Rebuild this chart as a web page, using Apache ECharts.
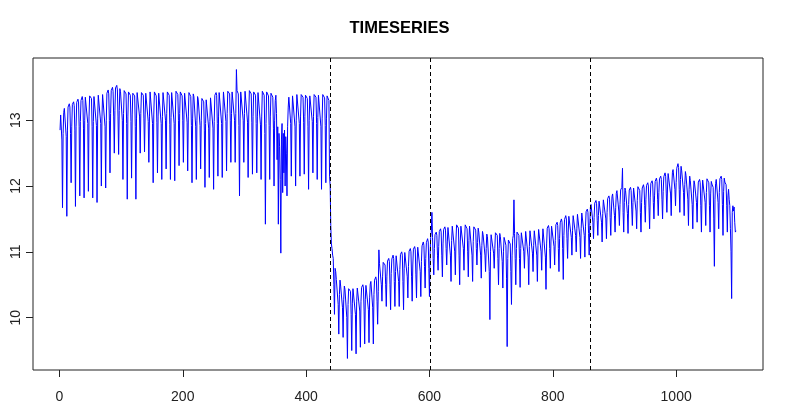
<!DOCTYPE html>
<html>
<head>
<meta charset="utf-8">
<script src="https://cdn.jsdelivr.net/npm/echarts@6/dist/echarts.min.js"></script>
<style>
html,body{margin:0;padding:0;background:#fff;}
#chart{width:799px;height:415px;}
</style>
</head>
<body>
<div id="chart"></div>
<script>
const chartTitle = 'TIMESERIES';
const xTicks = [0, 200, 400, 600, 800, 1000];
const yTicks = [10, 11, 12, 13];
const breaks = [439, 602, 861];

// t = 1 .. 441
const yA = [
12.85,13.08,13.05,12.7,11.67,12.8,13.12,
13.18,13.2,13.15,12.75,11.54,12.85,13.2,
13.22,13.25,13.2,12.8,12.05,12.9,13.24,
13.26,13.28,13.22,12.85,11.69,12.9,13.27,
13.3,13.32,13.28,12.9,11.85,12.98,13.3,
13.33,13.36,13.3,12.88,11.82,13.0,13.35,
13.36,13.38,13.32,12.95,11.92,13.05,13.37,
13.35,13.38,13.33,12.9,11.82,12.98,13.36,
13.37,13.39,13.34,12.92,11.75,13.02,13.38,
13.38,13.4,13.35,12.95,12.0,13.05,13.39,
13.37,13.4,13.36,12.9,11.97,13.0,13.41,
13.43,13.46,13.4,13.0,12.2,13.1,13.45,
13.47,13.5,13.44,13.05,12.5,13.15,13.49,
13.5,13.53,13.46,13.05,12.48,13.15,13.48,
13.44,13.46,13.42,13.0,12.1,13.1,13.45,
13.42,13.44,13.4,12.95,11.8,13.05,13.43,
13.4,13.42,13.38,12.98,12.12,13.08,13.41,
13.41,13.42,13.37,12.9,11.8,13.02,13.42,
13.4,13.43,13.39,13.05,12.5,13.1,13.42,
13.4,13.42,13.38,13.02,12.52,13.08,13.41,
13.41,13.42,13.38,12.98,12.36,13.05,13.43,
13.42,13.44,13.4,12.95,12.05,13.08,13.43,
13.4,13.42,13.37,12.97,12.2,13.05,13.41,
13.41,13.43,13.38,12.95,12.1,13.06,13.42,
13.42,13.44,13.39,13.0,12.26,13.1,13.43,
13.41,13.43,13.38,12.93,12.1,13.04,13.42,
13.43,13.45,13.4,12.95,12.08,13.08,13.44,
13.42,13.44,13.39,13.0,12.31,13.1,13.43,
13.41,13.42,13.37,13.0,12.36,13.08,13.41,
13.41,13.43,13.38,12.97,12.23,13.05,13.42,
13.4,13.42,13.36,12.92,12.05,13.02,13.4,
13.36,13.38,13.33,12.9,12.1,13.0,13.36,
13.32,13.34,13.3,12.92,12.26,13.0,13.33,
13.3,13.32,13.28,12.85,11.98,12.95,13.31,
13.31,13.33,13.29,12.88,12.13,12.98,13.34,
13.34,13.36,13.32,12.88,11.95,12.98,13.38,
13.4,13.42,13.38,12.95,12.15,13.05,13.42,
13.42,13.44,13.4,12.95,12.13,13.08,13.43,
13.43,13.45,13.4,12.98,12.23,13.1,13.44,
13.42,13.44,13.4,13.0,12.36,13.1,13.43,
13.44,13.46,13.41,13.0,12.36,13.1,13.77,
13.45,13.44,13.4,12.92,11.85,13.02,13.43,
13.43,13.45,13.41,13.0,12.36,13.1,13.44,
13.44,13.46,13.41,12.97,12.13,13.08,13.45,
13.42,13.44,13.4,12.96,12.18,13.06,13.43,
13.41,13.43,13.38,12.95,12.2,13.05,13.42,
13.43,13.45,13.4,12.93,12.1,13.05,13.44,
13.42,13.44,13.38,12.8,11.42,12.95,13.43,
13.4,13.42,13.37,12.92,12.1,13.05,13.41,
13.38,13.4,13.35,12.88,12.0,13.0,13.3,
13.38,13.1,12.4,12.9,11.42,12.8,12.6,
12.1,10.98,12.7,12.95,11.9,12.8,12.2,
12.85,12.0,12.75,12.5,11.85,12.9,13.2,
13.35,13.38,13.34,12.95,12.15,13.02,13.37,
13.38,13.4,13.35,12.9,12.0,13.0,13.39,
13.38,13.4,13.36,12.95,12.15,13.05,13.39,
13.39,13.4,13.35,12.97,12.18,13.06,13.38,
13.36,13.38,13.33,12.9,11.95,13.0,13.37,
13.38,13.4,13.36,12.98,12.2,13.06,13.39,
13.38,13.4,13.35,12.95,12.1,13.04,13.38,
13.38,13.4,13.35,12.9,11.95,13.02,13.39,
13.36,13.38,13.34,12.92,12.05,13.02,13.37,
13.38,13.36,13.3,12.15,12.0,11.4,11.12
];

// t = 442 .. 602
const yB = [
11.05,10.95,10.9,10.5,10.05,10.75,10.7,
10.58,10.6,10.55,10.2,9.75,10.35,10.57,
10.48,10.5,10.45,10.15,9.7,10.28,10.48,
10.43,10.45,10.4,10.0,9.38,10.2,10.44,
10.42,10.45,10.4,10.05,9.5,10.22,10.44,
10.44,10.46,10.41,10.05,9.45,10.24,10.45,
10.45,10.47,10.42,10.1,9.55,10.25,10.46,
10.47,10.5,10.45,10.1,9.6,10.28,10.49,
10.5,10.52,10.47,10.12,9.62,10.3,10.51,
10.55,10.58,10.52,10.15,9.6,10.35,10.57,
10.6,10.62,10.57,10.25,9.9,10.4,11.03,
10.82,10.85,10.8,10.5,10.25,10.62,10.84,
10.83,10.85,10.8,10.5,10.17,10.63,10.86,
10.87,10.9,10.85,10.5,10.12,10.67,10.89,
10.92,10.95,10.9,10.55,10.17,10.7,10.94,
10.95,10.97,10.92,10.55,10.17,10.73,10.96,
10.97,11.0,10.95,10.55,10.12,10.75,10.99,
11.0,11.02,10.97,10.62,10.3,10.78,11.01,
11.02,11.05,11.0,10.62,10.25,10.8,11.04,
11.05,11.08,11.03,10.65,10.3,10.83,11.07,
11.07,11.1,11.05,10.7,10.32,10.85,11.09,
11.12,11.15,11.1,10.78,10.45,10.9,11.14,
11.17,11.2,11.15,10.75,10.32,10.95,11.22
];

// t = 603 .. 861
const yC = [
11.3,11.6,11.22,10.9,10.65,11.05,11.26,
11.28,11.3,11.25,10.95,10.72,11.08,11.31,
11.32,11.35,11.3,10.95,10.62,11.12,11.34,
11.36,11.38,11.33,11.05,10.8,11.15,11.37,
11.38,11.4,11.35,10.95,10.55,11.17,11.39,
11.4,11.42,11.37,11.0,10.65,11.18,11.41,
11.38,11.4,11.36,10.95,10.5,11.15,11.39,
11.4,11.42,11.38,11.05,10.72,11.18,11.41,
11.38,11.4,11.35,11.0,10.62,11.17,11.39,
11.37,11.4,11.36,10.95,10.55,11.16,11.38,
11.36,11.38,11.33,11.05,10.8,11.14,11.36,
11.3,11.32,11.28,10.95,10.6,11.1,11.31,
11.26,11.28,11.23,10.95,10.7,11.05,11.27,
11.23,11.25,11.2,10.7,9.97,11.0,11.26,
11.26,11.28,11.24,10.98,10.75,11.05,11.29,
11.28,11.3,11.25,10.9,10.5,11.05,11.28,
11.23,11.25,11.2,10.85,10.45,11.0,11.22,
11.18,11.2,11.1,10.6,9.56,10.9,11.18,
11.16,11.18,11.12,10.7,10.2,10.95,11.2,
11.25,11.79,11.28,10.9,10.5,11.05,11.3,
11.28,11.3,11.25,10.9,10.46,11.05,11.29,
11.3,11.32,11.27,11.0,10.75,11.08,11.31,
11.31,11.33,11.28,10.92,10.5,11.08,11.32,
11.31,11.33,11.29,10.98,10.7,11.1,11.32,
11.33,11.35,11.3,10.95,10.55,11.1,11.34,
11.34,11.36,11.31,11.0,10.72,11.12,11.35,
11.35,11.37,11.32,10.92,10.43,11.12,11.36,
11.37,11.4,11.35,11.05,10.75,11.15,11.39,
11.38,11.4,11.36,11.08,10.8,11.17,11.41,
11.43,11.45,11.4,11.05,10.7,11.2,11.44,
11.47,11.5,11.45,11.05,10.58,11.25,11.49,
11.52,11.55,11.5,11.2,10.9,11.3,11.54,
11.54,11.56,11.51,11.22,10.95,11.32,11.55,
11.56,11.58,11.53,11.25,11.0,11.35,11.57,
11.58,11.6,11.55,11.22,10.9,11.35,11.59,
11.6,11.62,11.57,11.25,10.92,11.38,11.61,
11.62,11.65,11.6,11.28,10.95,11.4,11.68
];

// t = 862 .. 1097
const yD = [
11.72,11.75,11.7,11.45,11.2,11.52,11.74,
11.76,11.78,11.73,11.48,11.25,11.55,11.77,
11.78,11.8,11.75,11.45,11.15,11.58,11.79,
11.8,11.82,11.77,11.5,11.2,11.6,11.81,
11.83,11.85,11.8,11.52,11.25,11.62,11.84,
11.88,11.9,11.85,11.55,11.3,11.67,11.89,
11.93,11.95,11.9,11.62,11.4,11.72,11.94,
11.96,11.98,12.27,11.6,11.3,11.75,11.97,
11.93,11.95,11.9,11.58,11.28,11.72,11.94,
11.96,11.98,11.93,11.65,11.4,11.75,11.97,
11.98,12.0,11.95,11.62,11.35,11.78,11.99,
11.96,11.98,11.93,11.6,11.3,11.75,11.97,
12.0,12.02,11.97,11.7,11.45,11.8,12.01,
12.03,12.05,12.0,11.68,11.35,11.82,12.04,
12.06,12.08,12.03,11.75,11.5,11.85,12.07,
12.1,12.12,12.07,11.8,11.55,11.9,12.11,
12.13,12.15,12.1,11.8,11.5,11.92,12.14,
12.17,12.2,12.15,11.88,11.6,11.97,12.19,
12.2,12.22,12.17,11.88,11.55,12.0,12.21,
12.25,12.28,12.22,11.95,11.7,12.05,12.27,
12.3,12.34,12.28,11.95,11.6,12.1,12.3,
12.23,12.25,12.2,11.9,11.55,12.02,12.22,
12.16,12.18,12.13,11.8,11.4,11.95,12.15,
12.08,12.1,12.05,11.72,11.35,11.88,12.08,
12.03,12.05,12.0,11.75,11.45,11.85,12.06,
12.08,12.1,12.05,11.7,11.3,11.88,12.09,
12.1,12.12,12.07,11.75,11.4,11.9,12.11,
12.08,12.1,12.05,11.7,11.3,11.88,12.07,
12.03,12.05,11.98,11.5,10.78,11.8,12.04,
12.1,12.12,12.07,11.75,11.35,11.9,12.11,
12.13,12.15,12.1,11.72,11.25,11.92,12.12,
12.06,12.08,12.02,11.7,11.3,11.85,11.95,
11.8,11.7,11.35,11.0,10.29,11.6,11.7,
11.62,11.68,11.45,11.3,11.32
];

const values = yA.concat(yB, yC, yD);
const seriesData = values.map((v, i) => [i + 1, v]);
const n = values.length;
const vMin = Math.min.apply(null, values);
const vMax = Math.max.apply(null, values);
const xPad = (n - 1) * 0.04;
const yPad = (vMax - vMin) * 0.04;

const chart = echarts.init(document.getElementById('chart'), null, {renderer: 'canvas'});
const FONT = '"Liberation Sans", Arial, sans-serif';

chart.setOption({
  animation: false,
  backgroundColor: '#ffffff',
  title: {
    text: chartTitle,
    left: 'center',
    top: 15,
    textStyle: {fontFamily: FONT, fontSize: 16.5, fontWeight: 'bold', color: '#000'}
  },
  grid: {
    left: 33, right: 36, top: 58, bottom: 45,
    show: true, borderColor: '#222', borderWidth: 1, backgroundColor: 'transparent'
  },
  xAxis: {
    type: 'value',
    position: 'bottom',
    min: 1 - xPad,
    max: n + xPad,
    axisLine: {show: false, onZero: false},
    splitLine: {show: false},
    axisTick: {show: true, inside: false, length: 7, lineStyle: {color: '#222', width: 1}, customValues: xTicks},
    axisLabel: {
      customValues: xTicks,
      formatter: v => String(v),
      fontFamily: FONT, fontSize: 14, color: '#222', margin: 20
    }
  },
  yAxis: {
    type: 'value',
    position: 'left',
    min: vMin - yPad,
    max: vMax + yPad,
    axisLine: {show: false, onZero: false},
    splitLine: {show: false},
    axisTick: {show: true, inside: false, length: 7, lineStyle: {color: '#222', width: 1}, customValues: yTicks},
    axisLabel: {
      customValues: yTicks,
      formatter: v => String(v),
      rotate: 90,
      fontFamily: FONT, fontSize: 14, color: '#222', margin: 10
    }
  },
  series: [{
    type: 'line',
    data: seriesData,
    showSymbol: false,
    symbol: 'none',
    sampling: null,
    lineStyle: {color: '#0000ff', width: 1},
    itemStyle: {color: '#0000ff'},
    emphasis: {disabled: true},
    silent: true,
    markLine: {
      silent: true,
      symbol: ['none', 'none'],
      label: {show: false},
      lineStyle: {color: '#000', type: [4, 3], width: 1},
      data: breaks.map(b => ({xAxis: b}))
    }
  }]
});
</script>
</body>
</html>
